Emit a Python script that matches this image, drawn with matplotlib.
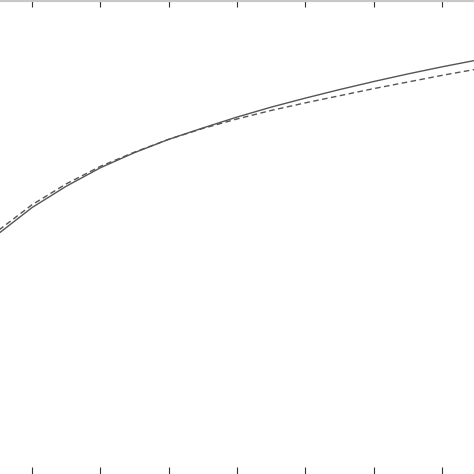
import matplotlib
matplotlib.use("Agg")
import matplotlib.pyplot as plt

# values (x in tick units, y in arbitrary units 0-10)
x_vals = [0.5, 1.0, 1.5, 2.0, 2.5, 3.0, 3.5, 4.0, 4.5, 5.0, 5.5, 6.0, 6.5, 7.0, 7.5]
solid_vals = [5.06, 5.62, 6.07, 6.46, 6.78, 7.06, 7.30, 7.53, 7.74, 7.93,
              8.11, 8.28, 8.44, 8.59, 8.73]
dashed_vals = [5.13, 5.68, 6.12, 6.49, 6.79, 7.06, 7.29, 7.49, 7.67, 7.83,
               7.98, 8.13, 8.27, 8.41, 8.54]
x_ticks = [1, 2, 3, 4, 5, 6, 7]

fig = plt.figure(figsize=(4.74, 4.74), dpi=100)
ax = fig.add_axes([0, 0, 1, 1])

ax.plot(x_vals, solid_vals, color="#555555", linewidth=1.0, linestyle="-")
ax.plot(x_vals, dashed_vals, color="#555555", linewidth=1.0, linestyle=(0, (4, 2.5)))

ax.set_xlim(0.532, 7.468)
ax.set_ylim(0, 10)
ax.set_xticks(x_ticks)
ax.set_yticks([])
ax.tick_params(axis="x", direction="in", top=True, bottom=True,
               labelbottom=False, labeltop=False,
               length=5, width=0.8, color="#333333")

for side in ["left", "right", "bottom"]:
    ax.spines[side].set_visible(False)
ax.spines["top"].set_color("#c8c8c8")
ax.spines["top"].set_linewidth(3)

fig.savefig("out.png", dpi=100)
